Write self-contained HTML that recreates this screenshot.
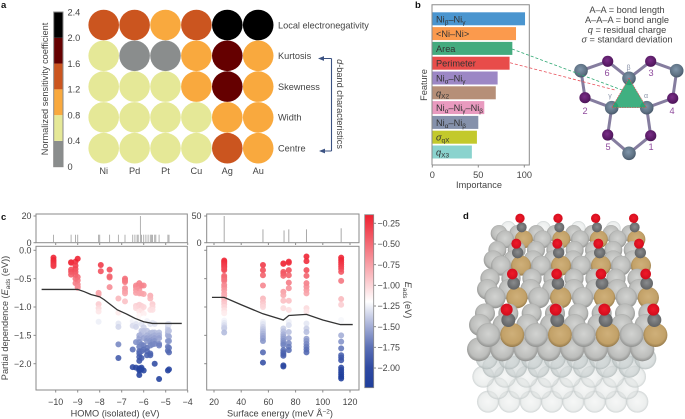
<!DOCTYPE html>
<html lang="en">
<head>
<meta charset="utf-8">
<title>Sensitivity and feature importance figure</title>
<style>
html,body{margin:0;padding:0;background:#fff;width:685px;height:419px;overflow:hidden}
svg{display:block;font-family:"Liberation Sans",sans-serif}
text{fill:#444;font-size:9.2px}
.b{font-weight:bold;fill:#111;font-size:9.5px}
.i{font-style:italic}
</style>
</head>
<body>
<svg id="fig" width="685" height="419" viewBox="0 0 685 419" xmlns="http://www.w3.org/2000/svg">
<defs>
<linearGradient id="ebar" x1="0" y1="0" x2="0" y2="1">
<stop offset="0" stop-color="#ee2030"/><stop offset=".503" stop-color="#ffffff"/><stop offset=".647" stop-color="#a3add6"/><stop offset=".766" stop-color="#5b70b6"/><stop offset=".885" stop-color="#2f4aa2"/><stop offset="1" stop-color="#1f3f9c"/>
</linearGradient>
<radialGradient id="gG" cx=".5" cy=".45" r=".55"><stop offset="0" stop-color="#d2d3d1"/><stop offset=".72" stop-color="#bcbdbb"/><stop offset="1" stop-color="#8f908e"/></radialGradient>
<radialGradient id="gT" cx=".5" cy=".45" r=".55"><stop offset="0" stop-color="#cfb07a"/><stop offset=".75" stop-color="#c2a168"/><stop offset="1" stop-color="#94794a"/></radialGradient>
<radialGradient id="gC" cx=".5" cy=".45" r=".55"><stop offset="0" stop-color="#8a8c8e"/><stop offset="1" stop-color="#606264"/></radialGradient>
<radialGradient id="gO" cx=".5" cy=".45" r=".55"><stop offset="0" stop-color="#f01a2a"/><stop offset="1" stop-color="#d00c1c"/></radialGradient>
<radialGradient id="gM" cx=".45" cy=".4" r=".6"><stop offset="0" stop-color="#7f95aa"/><stop offset=".7" stop-color="#5f7284"/><stop offset="1" stop-color="#48586a"/></radialGradient>
<radialGradient id="gP" cx=".45" cy=".4" r=".6"><stop offset="0" stop-color="#7a2e88"/><stop offset="1" stop-color="#4c1458"/></radialGradient>
<radialGradient id="gPale" cx=".5" cy=".5" r=".5"><stop offset="0" stop-color="#eef0ef" stop-opacity=".55"/><stop offset=".8" stop-color="#dfe3e2" stop-opacity=".6"/><stop offset="1" stop-color="#bcc3c3" stop-opacity=".7"/></radialGradient>
<radialGradient id="gPaleDark" cx=".5" cy=".5" r=".5"><stop offset="0" stop-color="#d8dddd" stop-opacity=".6"/><stop offset=".8" stop-color="#c8cfcf" stop-opacity=".7"/><stop offset="1" stop-color="#a8b1b1" stop-opacity=".75"/></radialGradient>
</defs>

<text class="b" x="1" y="8">a</text>
<text class="b" x="415" y="8">b</text>
<text class="b" x="1" y="220">c</text>
<text class="b" x="463" y="219">d</text>

<g id="panelA"></g>
<text transform="translate(48,89) rotate(-90)" text-anchor="middle">Normalized sensitivity coefficient</text>
<path d="M331.5 58.5V151M331.5 58.5H321M331.5 151H322" fill="none" stroke="#3b5282" stroke-width="1.1"/>
<path d="M318 58.5l6-2.4v4.8zM319 151l6-2.4v4.8z" fill="#3b5282"/>
<text transform="translate(337,104) rotate(90)" text-anchor="middle"><tspan class="i">d</tspan>-band characteristics</text>

<g id="panelB"></g>
<text transform="translate(427,85) rotate(-90)" text-anchor="middle">Feature</text>
<text x="479" y="188" text-anchor="middle">Importance</text>

<g text-anchor="middle">
<text x="627" y="13">A–A = bond length</text>
<text x="627" y="23">A–A–A = bond angle</text>
<text x="627" y="33"><tspan class="i">q</tspan> = residual charge</text>
<text x="627" y="42.5"><tspan class="i">σ</tspan> = standard deviation</text>
</g>

<g>
<polyline points="581,70.7 607.7,61.3 629,78.3 650.7,61.3 676.7,70.7 672.7,98.3 646.7,107.7 650.7,135.7 629,153.3 607.7,135 611.7,107.7 585,97.7 581,70.7" fill="none" stroke="#857d9f" stroke-width="3"/>
<g fill="url(#gM)">
<circle cx="581" cy="70.7" r="6.8"/><circle cx="629" cy="78.3" r="6.8"/><circle cx="676.7" cy="70.7" r="6.8"/><circle cx="611.7" cy="107.7" r="6.8"/><circle cx="646.7" cy="107.7" r="6.8"/><circle cx="629" cy="153.3" r="6.8"/>
</g>
<g fill="url(#gP)">
<circle cx="607.7" cy="61.3" r="5.6"/><circle cx="650.7" cy="61.3" r="5.6"/><circle cx="585" cy="97.7" r="5.6"/><circle cx="672.7" cy="98.3" r="5.6"/><circle cx="607.7" cy="135" r="5.6"/><circle cx="650.7" cy="135.7" r="5.6"/>
</g>
<polygon points="629,78.3 646.7,107.7 611.7,107.7" fill="#25a56f" fill-opacity=".88" stroke="#e8505a" stroke-width=".7" stroke-dasharray="1.5 1"/>
<line x1="512" y1="49" x2="622" y2="90" stroke="#2fa873" stroke-width=".8" stroke-dasharray="3 2"/>
<line x1="510" y1="62.7" x2="615" y2="90" stroke="#e8505a" stroke-width=".8" stroke-dasharray="3 2"/>
<g text-anchor="middle">
<text x="607" y="76" style="fill:#8e4a9c">6</text>
<text x="651" y="76" style="fill:#8e4a9c">3</text>
<text x="585" y="114" style="fill:#8e4a9c">2</text>
<text x="672" y="114" style="fill:#8e4a9c">4</text>
<text x="608" y="150" style="fill:#8e4a9c">5</text>
<text x="651" y="150" style="fill:#8e4a9c">1</text>
</g>
<g text-anchor="middle">
<text x="628.5" y="70" style="fill:#8a93a8;font-size:7px">β</text>
<text x="610" y="98" style="fill:#8a93a8;font-size:7px">γ</text>
<text x="646" y="98" style="fill:#8a93a8;font-size:7px">α</text>
</g>
</g>

<g id="panelC"></g>
<text transform="translate(8,318) rotate(-90)" text-anchor="middle">Partial dependence (<tspan class="i">E</tspan><tspan dy="2" style="font-size:6.5px">ads</tspan><tspan dy="-2"> (eV))</tspan></text>
<text x="115" y="416.5" text-anchor="middle">HOMO (isolated) (eV)</text>
<text x="280" y="416.5" text-anchor="middle">Surface energy (meV Å<tspan dy="-3" style="font-size:6.5px">−2</tspan><tspan dy="3">)</tspan></text>
<text transform="translate(405,300) rotate(90)" text-anchor="middle"><tspan class="i">E</tspan><tspan dy="2" style="font-size:6.5px">ads</tspan><tspan dy="-2"> (eV)</tspan></text>

<g id="panelD"></g>
</svg>

<script>
// ---------- Panel a data ----------
const elements = ['Ni', 'Pd', 'Pt', 'Cu', 'Ag', 'Au'];
const descriptors = ['Local electronegativity', 'Kurtosis', 'Skewness', 'Width', 'Centre'];
const sensitivityLocal = [1.4, 1.4, 1.0, 1.4, 2.2, 2.2];
const sensitivityKurtosis = [0.6, 0.2, 0.2, 1.0, 1.8, 1.0];
const sensitivitySkewness = [0.6, 0.6, 0.6, 1.0, 1.8, 1.0];
const sensitivityWidth = [0.6, 0.6, 0.6, 0.6, 1.0, 1.0];
const sensitivityCentre = [0.6, 0.6, 0.6, 0.6, 1.4, 1.0];
const sensitivityColors = ['#8a8d8d', '#e5e897', '#f9a93e', '#cb551f', '#650000', '#000000'];
const sensitivityTicks = [0, 0.4, 0.8, 1.2, 1.6, 2.0, 2.4];

// ---------- Panel b data ----------
const importanceLabels = [
  [['Ni', 'n'], ['β', 's'], ['–Ni', 'n'], ['γ', 's']],
  [['<Ni–Ni>', 'n']],
  [['Area', 'n']],
  [['Perimeter', 'n']],
  [['Ni', 'n'], ['α', 's'], ['–Ni', 'n'], ['γ', 's']],
  [['q', 'i'], ['X2', 's']],
  [['Ni', 'n'], ['α', 's'], ['–Ni', 'n'], ['γ', 's'], ['–Ni', 'n'], ['β', 's']],
  [['Ni', 'n'], ['α', 's'], ['–Ni', 'n'], ['β', 's']],
  [['σ', 'i'], ['qX', 's']],
  [['q', 'i'], ['X3', 's']]
];
const importanceValues = [100.8, 91, 87, 84, 71, 69, 56.5, 50, 48.5, 43];
const importanceColors = ['#4a95cf', '#fb9a4d', '#44ab7e', '#e84c4a', '#9c87c5', '#b68f78', '#e99abf', '#8591ab', '#c3c92c', '#8ad3ce'];
const importanceTicks = [0, 50, 100];

// ---------- Panel c data ----------
const homoColumns = [-10.1, -9.3, -9.1, -9.0, -8.05, -7.95, -7.55, -7.15, -6.85, -6.5, -6.35, -6.2, -6.1, -6.0, -5.85, -5.7, -5.6, -5.5, -5.3, -4.9, -4.85];
const homoEnergies = [
  [-0.13, -0.17, -0.2, -0.23, -0.26, -0.28],
  [-0.21, -0.22, -0.34, -0.38, -0.43],
  [-0.2, -0.27, -0.33, -0.38, -0.43, -0.5, -0.58],
  [-0.15, -0.47, -0.53, -0.6, -0.64, -0.66],
  [-0.75, -0.78, -0.95, -1.02, -1.08, -1.26],
  [-0.26, -0.37],
  [-0.34, -0.46, -0.48, -0.65],
  [-0.85, -1.1, -1.29, -1.35, -1.66, -1.9],
  [-0.5, -0.53, -0.56, -0.67, -0.72, -0.76, -0.9],
  [-1.25, -1.33, -1.75, -2.06],
  [-0.62, -0.65, -0.7, -0.75, -0.98, -1.02, -1.22, -1.3, -1.35, -1.62, -2.07],
  [-0.58, -0.63, -0.68, -0.76, -0.96, -1.0, -1.08, -1.15, -1.5, -1.55, -1.62, -1.7, -1.78, -1.82, -1.88, -1.95, -2.08, -2.1, -2.12, -2.2],
  [-0.62, -0.76, -0.98, -1.06, -1.16, -1.3, -1.42, -1.48, -1.66, -1.78, -1.9, -2.07, -2.1],
  [-0.62, -0.77, -1.0, -1.12, -1.2, -1.36, -1.42, -1.55, -1.68, -1.75, -2.12],
  [-1.25, -1.42, -1.5, -1.55, -1.6, -1.72, -1.78, -1.85],
  [-0.8, -0.85, -1.05, -1.3, -1.46, -1.5, -1.55, -1.6, -1.68, -1.82, -1.85],
  [-0.95, -1.0, -1.05, -1.28, -1.45, -1.52, -1.58, -1.62, -1.66],
  [-1.3, -1.45, -1.5, -1.55, -1.6, -1.65, -2.0],
  [-1.45, -1.5, -1.55, -1.65, -1.68, -2.27],
  [-1.3, -1.35, -1.4, -1.45, -1.5, -1.6, -1.7, -1.77, -2.12],
  [-1.3, -1.42, -1.52, -1.6, -1.72, -1.8, -2.1]
];
const surfaceColumns = [27.5, 56, 71, 75, 88, 113.5];
const surfaceEnergies = [
  [-0.18, -0.2, -0.22, -0.24, -0.26, -0.28, -0.3, -0.33, -0.35, -0.45, -0.48, -0.51, -0.54, -0.61, -0.65, -0.7, -0.76, -0.8, -0.85, -0.9, -0.95, -1.0, -1.06, -1.11, -1.24, -1.28, -1.32, -1.36, -1.38, -1.45],
  [-0.26, -0.35, -0.44, -0.62, -0.85, -0.91, -0.96, -1.0, -1.26, -1.3, -1.35, -1.39, -1.43, -1.47, -1.51, -1.55, -1.6, -1.8, -1.98],
  [-0.23, -0.24, -0.38, -0.41, -0.45, -0.73, -0.79, -0.89, -1.02, -1.38, -1.43, -1.48, -1.52, -1.56, -1.6, -1.64, -1.67, -1.76, -1.8, -1.83, -1.86, -2.03, -2.05],
  [-0.2, -0.22, -0.35, -0.44, -0.57, -0.67, -0.89, -1.05, -1.26, -1.32, -1.44, -1.55, -1.64, -1.7, -1.76],
  [-0.11, -0.19, -0.35, -0.45, -0.58, -0.64, -0.7, -0.76, -1.02, -1.08, -1.29, -1.38, -1.44, -1.56, -1.6, -1.65, -1.7, -1.75, -1.8],
  [-0.13, -0.17, -0.21, -0.25, -0.29, -0.33, -0.38, -0.54, -0.86, -0.96, -1.23, -1.5, -1.61, -1.73, -1.85, -1.89, -1.94, -2.07, -2.11, -2.15, -2.19, -2.23, -2.26]
];
const homoLineX = [-10.64, -9.0, -8.7, -8.4, -8.0, -7.8, -7.5, -7.2, -6.8, -6.4, -6.0, -5.6, -4.27];
const homoLineY = [-0.69, -0.69, -0.73, -0.78, -0.82, -0.87, -0.96, -1.05, -1.12, -1.2, -1.26, -1.29, -1.29];
const surfaceLineX = [18.5, 27.5, 40, 56, 71, 72.5, 75, 88, 100, 113, 122];
const surfaceLineY = [-0.83, -0.83, -0.96, -1.12, -1.23, -1.2, -1.15, -1.13, -1.23, -1.31, -1.31];
const homoRugX = [-10.1, -9.3, -9.1, -9.0, -8.05, -8.0, -7.55, -7.15, -6.85, -6.5, -6.4, -6.3, -6.25, -6.15, -6.1, -6.0, -5.9, -5.8, -5.7, -5.65, -5.6, -5.5, -5.45, -5.3, -4.9, -4.85];
const homoRugCounts = [6, 6, 6, 6, 6, 6, 6, 6, 6, 6, 6, 6, 6, 20, 6, 6, 6, 6, 6, 6, 6, 6, 6, 6, 6, 6];
const surfaceRugX = [27.5, 56, 71.5, 75, 88, 113.5];
const surfaceRugCounts = [50, 25, 23, 25, 25, 27];
const homoTicks = [-10, -9, -8, -7, -6, -5, -4];
const surfaceTicks = [20, 40, 60, 80, 100, 120];
const energyTicks = [0, -0.5, -1, -1.5, -2];
const colorbarTicks = [-0.25, -0.5, -0.75, -1, -1.25, -1.5, -1.75, -2];
const homoCountTicks = [0, 20];
const surfaceCountTicks = [0, 50];

// ---------- helpers ----------
const NS = 'http://www.w3.org/2000/svg';
function mk(parent, tag, attrs, txt) {
  const e = document.createElementNS(NS, tag);
  for (const k in attrs) e.setAttribute(k, attrs[k]);
  if (txt !== undefined) e.textContent = txt;
  parent.appendChild(e);
  return e;
}
const minus = v => String(v).replace('-', '−');
const GREY = '#8a8a8a';

// ---------- Panel a ----------
const A = document.getElementById('panelA');
const colX = i => 103.7 + i * 30.9;
const rowY = i => 25 + i * 30.8;
const barA = v => 166.7 - v / 2.4 * 154.7;
const binColor = v => sensitivityColors[Math.min(5, Math.floor(v / 0.4))];
const sensitivityRows = [sensitivityLocal, sensitivityKurtosis, sensitivitySkewness, sensitivityWidth, sensitivityCentre];
sensitivityRows.forEach((row, r) => {
  row.forEach((v, c) => {
    const dot = mk(A, 'circle', {cx: colX(c), cy: rowY(r), r: 15.3, fill: binColor(v)});
    
    
  });
  const t = mk(A, 'text', {x: 278, y: rowY(r) + 3.3}, descriptors[r]);
  
  
});
elements.forEach((el, c) => {
  const t = mk(A, 'text', {x: colX(c), y: 174, 'text-anchor': 'middle'}, el);
  
  
});
sensitivityColors.forEach((col, i) => {
  const lo = sensitivityTicks[i], hi = sensitivityTicks[i + 1];
  const s = mk(A, 'rect', {x: 53.7, y: barA(hi), width: 9.3, height: barA(lo) - barA(hi), fill: col});
  
  
});
const aFrame = mk(A, 'rect', {x: 53.7, y: 12, width: 9.3, height: 154.7, fill: 'none', stroke: GREY, 'stroke-width': 1});


sensitivityTicks.forEach(v => {
  const t = mk(A, 'text', {x: 67.5, y: barA(v) + 3.3}, v === 0 ? '0' : v.toFixed(1));
  
  
});

// ---------- Panel b ----------
const B = document.getElementById('panelB');
const impX = v => 432.3 + v * 0.92;
importanceValues.forEach((v, i) => {
  const y = 12.3 + i * 14.8;
  const bar = mk(B, 'rect', {x: 432, y: y, width: impX(v) - 432, height: 13, fill: importanceColors[i]});
  
  
  const t = mk(B, 'text', {x: 436, y: y + 10, style: 'fill:#333'});
  
  
  let shift = 0;
  importanceLabels[i].forEach(part => {
    const st = part[1] === 's' ? 'font-size:6.5px' : (part[1] === 'i' ? 'font-style:italic' : '');
    const dy = part[1] === 's' ? 2 : -shift;
    mk(t, 'tspan', {dy: dy, style: st}, part[0]);
    shift = part[1] === 's' ? 2 : 0;
  });
});
const bFrame = mk(B, 'path', {d: 'M432 165V4.7H529.3V165H432', fill: 'none', stroke: GREY, 'stroke-width': 1});


importanceTicks.forEach(v => {
  const tk = mk(B, 'line', {x1: impX(v), x2: impX(v), y1: 165, y2: 167.5, stroke: GREY});
  
  
  const t = mk(B, 'text', {x: impX(v), y: 178, 'text-anchor': 'middle'}, v);
  
  
});

// ---------- Panel c ----------
const C = document.getElementById('panelC');
const homoX = v => 55.7 + (v + 10) * 22.0;
const surfX = v => 214 + (v - 20) * 1.36;
const eY = v => 250.3 - v * 56.7;
const histTop = (v, max) => 242.7 - v / max * 26.7;
function energyColor(v) {
  const anchors = [-0.15, -1.2, -1.5, -1.75, -2.0, -2.24];
  const shades = [[238, 32, 48], [255, 255, 255], [163, 173, 214], [91, 112, 182], [47, 74, 162], [31, 63, 156]];
  let i = 0;
  while (i < anchors.length - 2 && v < anchors[i + 1]) i++;
  const t = Math.max(0, Math.min(1, (v - anchors[i]) / (anchors[i + 1] - anchors[i])));
  return 'rgb(' + shades[i].map((c, k) => Math.round(c + (shades[i + 1][k] - c) * t)).join(',') + ')';
}
function frame(x0, x1, name) {
  const f1 = mk(C, 'rect', {x: x0, y: 214, width: x1 - x0, height: 28.7, fill: 'none', stroke: GREY, 'stroke-width': 1});
  
  
  const f2 = mk(C, 'rect', {x: x0, y: 246.3, width: x1 - x0, height: 143.7, fill: 'none', stroke: GREY, 'stroke-width': 1});
  
  
}
frame(36, 187.3, 'homo');
frame(206.7, 359, 'surface');

homoRugX.forEach((x, i) => {
  const r = mk(C, 'line', {x1: homoX(x), x2: homoX(x), y1: 242.7, y2: histTop(homoRugCounts[i], 20), stroke: '#a9a9a9', 'stroke-width': 0.9});
  
  
});
surfaceRugX.forEach((x, i) => {
  const r = mk(C, 'line', {x1: surfX(x), x2: surfX(x), y1: 242.7, y2: histTop(surfaceRugCounts[i], 50), stroke: '#a9a9a9', 'stroke-width': 1});
  
  
});

homoColumns.forEach((x, i) => {
  homoEnergies[i].forEach(v => {
    const p = mk(C, 'circle', {cx: homoX(x), cy: eY(v), r: 3, fill: energyColor(v), 'fill-opacity': 0.88});
    
    
  });
});
surfaceColumns.forEach((x, i) => {
  surfaceEnergies[i].forEach(v => {
    const p = mk(C, 'circle', {cx: surfX(x), cy: eY(v), r: 3, fill: energyColor(v), 'fill-opacity': 0.88});
    
    
  });
});
const homoPath = mk(C, 'polyline', {points: homoLineX.map((x, i) => homoX(x) + ',' + eY(homoLineY[i])).join(' '), fill: 'none', stroke: '#333', 'stroke-width': 1.3});


const surfPath = mk(C, 'polyline', {points: surfaceLineX.map((x, i) => surfX(x) + ',' + eY(surfaceLineY[i])).join(' '), fill: 'none', stroke: '#333', 'stroke-width': 1.3});



homoTicks.forEach(v => {
  const tk = mk(C, 'line', {x1: homoX(v), x2: homoX(v), y1: 390, y2: 392.5, stroke: GREY});
  
  
  const tk2 = mk(C, 'line', {x1: homoX(v), x2: homoX(v), y1: 242.7, y2: 245, stroke: GREY});
  
  
  const t = mk(C, 'text', {x: homoX(v), y: 405, 'text-anchor': 'middle', style: 'font-size:8.9px'}, minus(v));
  
  
});
surfaceTicks.forEach(v => {
  const tk = mk(C, 'line', {x1: surfX(v), x2: surfX(v), y1: 390, y2: 392.5, stroke: GREY});
  
  
  const tk2 = mk(C, 'line', {x1: surfX(v), x2: surfX(v), y1: 242.7, y2: 245, stroke: GREY});
  
  
  const t = mk(C, 'text', {x: surfX(v), y: 405, 'text-anchor': 'middle', style: 'font-size:8.9px'}, v);
  
  
});
energyTicks.forEach(v => {
  const tk = mk(C, 'line', {x1: 33.5, x2: 36, y1: eY(v), y2: eY(v), stroke: GREY});
  
  
  const tk2 = mk(C, 'line', {x1: 204.2, x2: 206.7, y1: eY(v), y2: eY(v), stroke: GREY});
  
  
  const t = mk(C, 'text', {x: 31.5, y: eY(v) + 3.2, 'text-anchor': 'end', style: 'font-size:8.9px'}, minus(v.toFixed(1)));
  
  
});
homoCountTicks.forEach(v => {
  const y = histTop(v, 20);
  const tk = mk(C, 'line', {x1: 33.5, x2: 36, y1: y, y2: y, stroke: GREY});
  
  
  const t = mk(C, 'text', {x: 31.5, y: y + 3.2, 'text-anchor': 'end', style: 'font-size:8.9px'}, v);
  
  
});
surfaceCountTicks.forEach(v => {
  const y = histTop(v, 50);
  const tk = mk(C, 'line', {x1: 204.2, x2: 206.7, y1: y, y2: y, stroke: GREY});
  
  
  const t = mk(C, 'text', {x: 201.5, y: y + 3.2, 'text-anchor': 'end', style: 'font-size:8.9px'}, v);
  
  
});
const ebar = mk(C, 'rect', {x: 364.7, y: 214.7, width: 9, height: 173, fill: 'url(#ebar)', stroke: GREY, 'stroke-width': 0.8});


const cbY = v => 223.3 - (v + 0.25) * 82.7;
colorbarTicks.forEach(v => {
  const tk = mk(C, 'line', {x1: 373.7, x2: 376, y1: cbY(v), y2: cbY(v), stroke: GREY});
  
  
  const t = mk(C, 'text', {x: 377.5, y: cbY(v) + 3.2, style: 'font-size:8.9px'}, minus(v.toFixed(2)));
  
  
});

// ---------- Panel d ----------
const D = document.getElementById('panelD');
const px = z => 440 + z / 3;
const py = z => 200 + z / 3;
function atom(zx, zy, zr, fill, name) {
  const a = mk(D, 'circle', {cx: px(zx), cy: py(zy), r: zr / 3, fill: fill});
  
  
}
function paleRow(zy, x0, pitch, n, zr, fill) {
  for (let i = 0; i < n; i++) atom(x0 + i * pitch, zy, zr, fill, 'subsurface-atom');
}
function greyRow(zy, x0, pitch, n, zr) {
  for (let i = 0; i < n; i++) atom(x0 + i * pitch, zy, zr, 'url(#gG)', 'surface-atom');
}
function mixedRow(zy, x0, pitch, zr) {
  for (let i = 0; i < 8; i++) atom(x0 + i * pitch, zy, zr, i % 2 ? 'url(#gT)' : 'url(#gG)', i % 2 ? 'alloy-atom' : 'surface-atom');
}
paleRow(85, 205, 105, 4, 22, 'url(#gPale)');
paleRow(605, 144, 64, 8, 33, 'url(#gPale)');
paleRow(565, 173, 65, 7, 33, 'url(#gPale)');
paleRow(530, 130, 65, 8, 33, 'url(#gPale)');
paleRow(500, 160, 68, 7, 33, 'url(#gPaleDark)');
paleRow(475, 140, 68, 8, 33, 'url(#gPaleDark)');
greyRow(100, 177, 56, 8, 25);
mixedRow(118, 195, 56.3, 27);
greyRow(150, 172, 58, 8, 27);
greyRow(180, 160, 60, 8, 29);
mixedRow(197, 183, 60, 30);
greyRow(235, 150, 63, 8, 29);
greyRow(268, 142, 65, 8, 31);
mixedRow(293, 165, 65.7, 32);
greyRow(340, 135, 70, 8, 30);
greyRow(375, 120, 71, 8, 33);
greyRow(448, 117, 70, 8, 36);
mixedRow(405, 145, 71.6, 36);
function adsorbate(cx, cy, ox, oy, cr, or) {
  atom(cx, cy, cr, 'url(#gC)', 'carbon-atom');
  atom(ox, oy, or, 'url(#gO)', 'oxygen-atom');
}
adsorbate(245, 82, 240, 55, 15, 14);
adsorbate(358, 82, 354, 55, 15, 14);
adsorbate(471, 82, 467, 55, 15, 14);
adsorbate(584, 82, 581, 55, 15, 14);
adsorbate(233, 158, 229, 131, 17, 15);
adsorbate(356, 158, 352, 131, 17, 15);
adsorbate(479, 158, 475, 131, 17, 15);
adsorbate(601, 158, 597, 131, 17, 15);
adsorbate(221, 250, 217, 222, 19, 16);
adsorbate(354, 250, 350, 222, 19, 16);
adsorbate(486, 250, 483, 222, 19, 16);
adsorbate(620, 250, 617, 222, 19, 16);
adsorbate(205, 360, 200, 329, 21, 18);
adsorbate(352, 360, 347, 329, 21, 18);
adsorbate(497, 360, 493, 329, 21, 18);
adsorbate(643, 360, 640, 329, 21, 18);
</script>
</body>
</html>
